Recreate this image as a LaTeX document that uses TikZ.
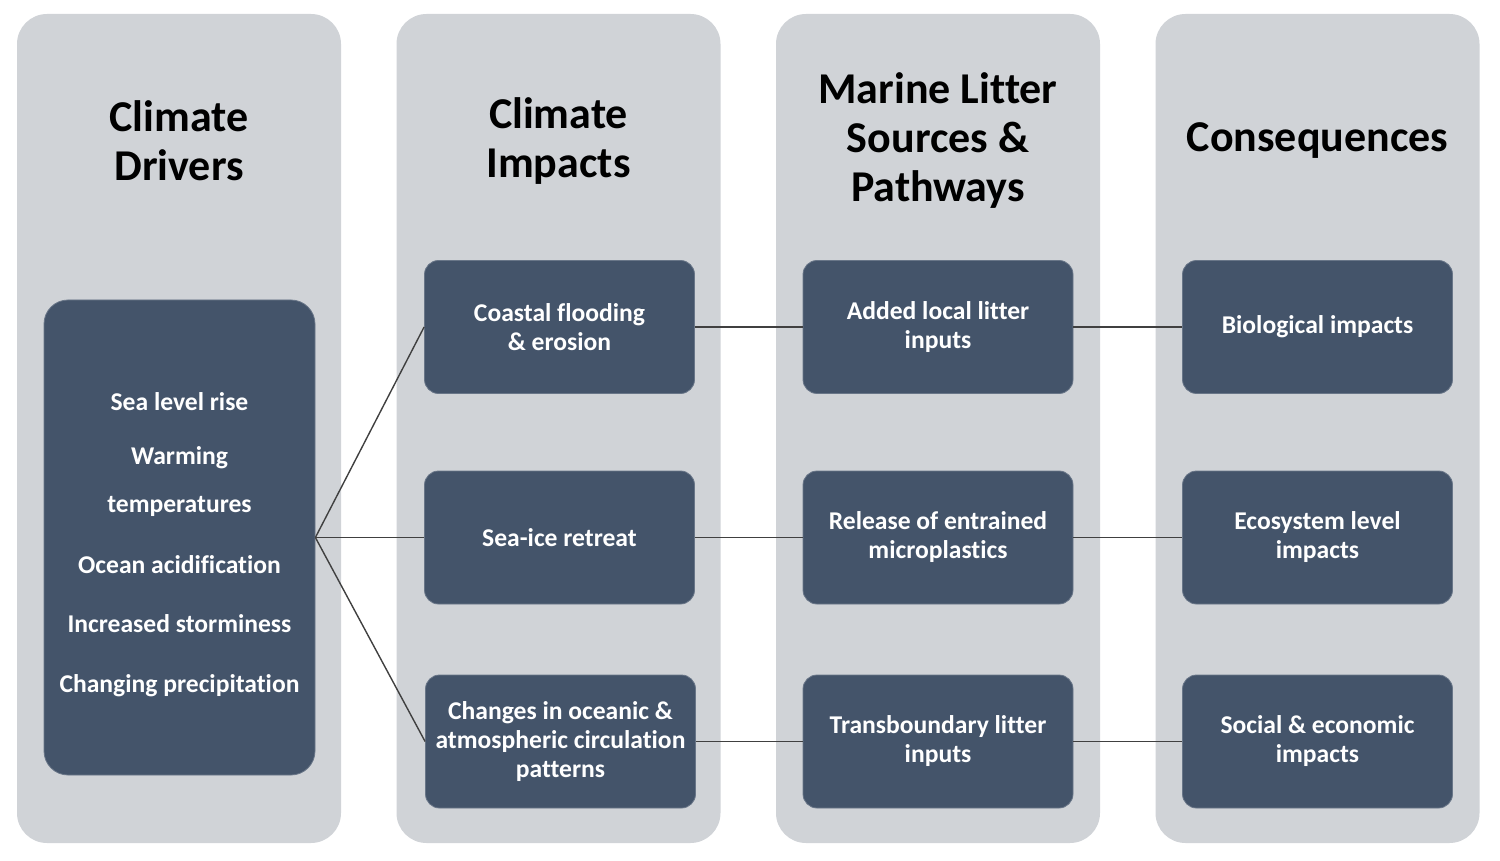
\documentclass[tikz,border=0pt]{standalone}
\usepackage{fontspec}
\setmainfont{Carlito}[Ligatures=CommonOff]
\usepackage{xcolor}
\definecolor{panelgray}{HTML}{D0D3D7}
\definecolor{slate}{HTML}{44546A}
\definecolor{linkgray}{HTML}{404040}

\begin{document}
\begin{tikzpicture}[x=0.5pt, y=-0.5pt,
    panel/.style={fill=panelgray, rounded corners=15pt, minimum width=162pt, minimum height=414.5pt, inner sep=0pt},
    heading/.style={font=\fontsize{22}{24.5}\selectfont\bfseries, align=center, text=black},
    item/.style={fill=slate, draw=slate!80!white, line width=0.4pt, rounded corners=7pt, minimum width=135pt, minimum height=66.5pt, inner sep=0pt, text=white, align=center, font=\fontsize{12.8}{14.5}\selectfont\bfseries},
    link/.style={draw=linkgray, line width=0.7pt}]
\useasboundingbox (0,0) rectangle (1500,861);

% columns
\node[panel] (colA) at (179,428.5) {};
\node[panel] (colB) at (558.5,428.5) {};
\node[panel] (colC) at (938,428.5) {};
\node[panel] (colD) at (1317.5,428.5) {};

% headings
\node[heading] (headA) at (179,141) {Climate\\Drivers};
\node[heading] (headB) at (558.5,141) {Climate\\Impacts};
\node[heading] (headC) at (938,141) {Marine Litter\\Sources \&\\Pathways};
\node[heading] (headD) at (1317.5,141) {Consequences};

% drivers
\node[item, rounded corners=12pt, minimum width=135.5pt, minimum height=237.5pt] (drivers) at (179.5,537.5) {};
\node[text=white, align=center, font=\fontsize{12.8}{24}\selectfont\bfseries] (driverlist) at (179.5,545)
    {Sea level rise\\[3pt]
     Warming\\
     temperatures\\[6.5pt]
     Ocean acidification\\[5.5pt]
     Increased storminess\\[6pt]
     Changing precipitation};

% impacts
\node[item] (flood) at (559.5,327) {Coastal flooding\\\& erosion};
\node[item] (seaice) at (559.5,537.5) {Sea-ice retreat};
\node[item] (circ) at (560.5,741.5) {Changes in oceanic \&\\atmospheric circulation\\patterns};

% sources and pathways
\node[item] (local) at (938,327) {Added local litter\\inputs};
\node[item] (micro) at (938,537.5) {Release of entrained\\microplastics};
\node[item] (trans) at (938,741.5) {Transboundary litter\\inputs};

% consequences
\node[item] (bio) at (1317.5,327) {Biological impacts};
\node[item] (eco) at (1317.5,537.5) {Ecosystem level\\impacts};
\node[item] (social) at (1317.5,741.5) {Social \& economic\\impacts};

% connectors
\draw[link] (drivers.east) -- (flood.west);
\draw[link] (drivers.east) -- (seaice.west);
\draw[link] (drivers.east) -- (circ.west);
\draw[link] (flood.east) -- (local.west);
\draw[link] (seaice.east) -- (micro.west);
\draw[link] (circ.east) -- (trans.west);
\draw[link] (local.east) -- (bio.west);
\draw[link] (micro.east) -- (eco.west);
\draw[link] (trans.east) -- (social.west);
\end{tikzpicture}
\end{document}
